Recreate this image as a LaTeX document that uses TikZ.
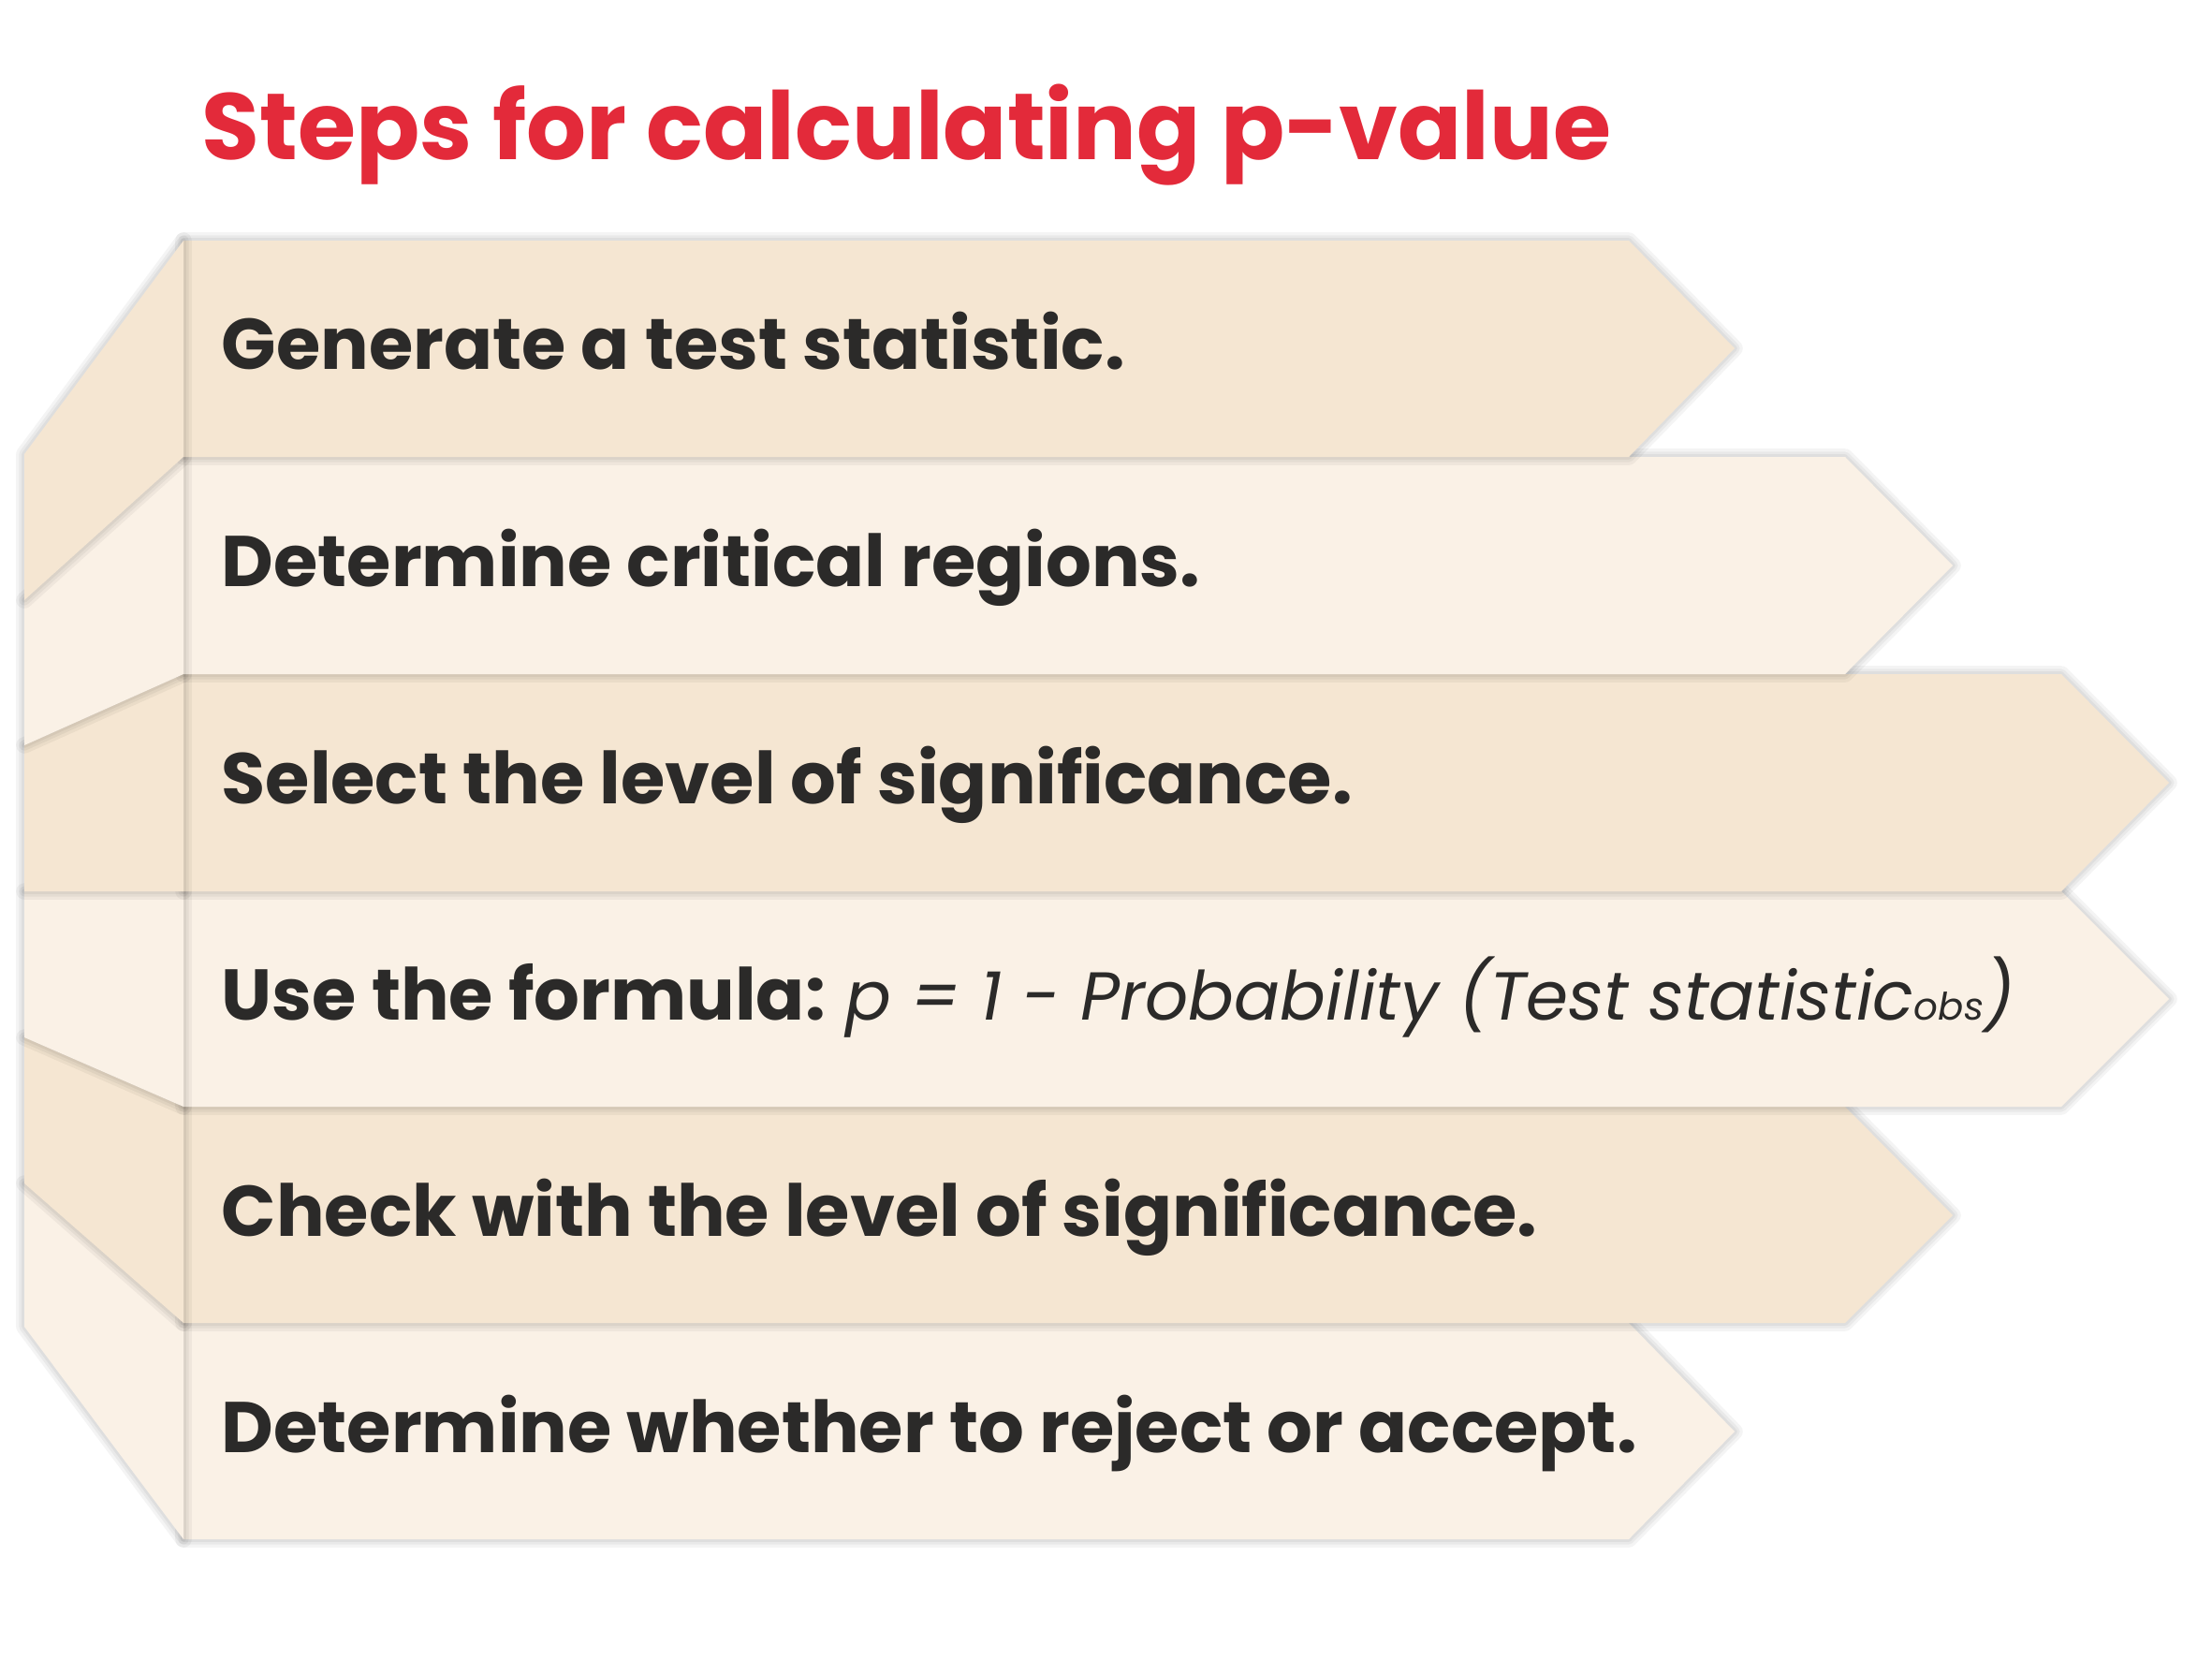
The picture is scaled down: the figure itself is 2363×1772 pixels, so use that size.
\documentclass[tikz,border=0pt]{standalone}
\usepackage{fontspec}
\setmainfont{Poppins}
\definecolor{bandA}{HTML}{F5E6D2}
\definecolor{bandB}{HTML}{FAF1E6}
\definecolor{titlered}{HTML}{E32A3A}
\definecolor{ink}{HTML}{2B2A29}
\newcommand\shapeglow[2]{%
  \foreach \lw in {5,3.2,1.6}{\draw[black,opacity=0.045,line width=\lw pt,line join=round] #1 -- cycle;}
  \fill[#2] #1 -- cycle;}
\begin{document}
\begin{tikzpicture}[x=0.01cm,y=-0.01cm,
  steptext/.style={anchor=base west,inner sep=0pt,text=ink,font=\fontsize{21.8}{24}\selectfont\bfseries},
  titletext/.style={anchor=base west,inner sep=0pt,text=titlered,font=\fontsize{28.6}{32}\selectfont\bfseries}]
\useasboundingbox (0,0) rectangle (2363,1772);
\fill[white] (0,0) rectangle (2363,1772);
% band 6
\shapeglow{(196,1413) -- (1740,1413) -- (1853,1529) -- (1740,1644) -- (196,1644)}{bandB}
\shapeglow{(26,1264) -- (196,1413) -- (196,1644) -- (26,1417)}{bandB}
% band 5
\shapeglow{(196,1182) -- (1971,1182) -- (2086,1298) -- (1971,1413) -- (196,1413)}{bandA}
\shapeglow{(26,1108) -- (196,1182) -- (196,1413) -- (26,1264)}{bandA}
% band 4
\shapeglow{(196,952) -- (2202,952) -- (2317,1067) -- (2202,1182) -- (196,1182)}{bandB}
\shapeglow{(26,952) -- (196,952) -- (196,1182) -- (26,1108)}{bandB}
% band 3
\shapeglow{(196,720) -- (2202,720) -- (2317,836) -- (2202,952) -- (196,952)}{bandA}
\shapeglow{(26,796) -- (196,720) -- (196,952) -- (26,952)}{bandA}
% band 2
\shapeglow{(196,488) -- (1971,488) -- (2086,604) -- (1971,720) -- (196,720)}{bandB}
\shapeglow{(26,641) -- (196,488) -- (196,720) -- (26,796)}{bandB}
% band 1
\shapeglow{(196,257) -- (1740,257) -- (1853,372) -- (1740,488) -- (196,488)}{bandA}
\shapeglow{(196,257) -- (26,485) -- (26,641) -- (196,488)}{bandA}
% texts
\node[titletext] (title) at (215,170) {Steps for calculating p-value};
\node[steptext] (t1) at (236,394) {Generate a test statistic.};
\node[steptext] (t2) at (236,626) {Determine critical regions.};
\node[steptext] (t3) at (236,858) {Select the level of significance.};
\node[steptext] (t4) at (236,1089) {Use the formula: {\mdseries\itshape\fontsize{20.6}{24}\selectfont p = 1 - Probability (Test statistic{\fontsize{11.5}{12}\selectfont obs})}};
\node[steptext] (t5) at (236,1320) {Check with the level of significance.};
\node[steptext] (t6) at (236,1551) {Determine whether to reject or accept.};
\end{tikzpicture}
\end{document}
